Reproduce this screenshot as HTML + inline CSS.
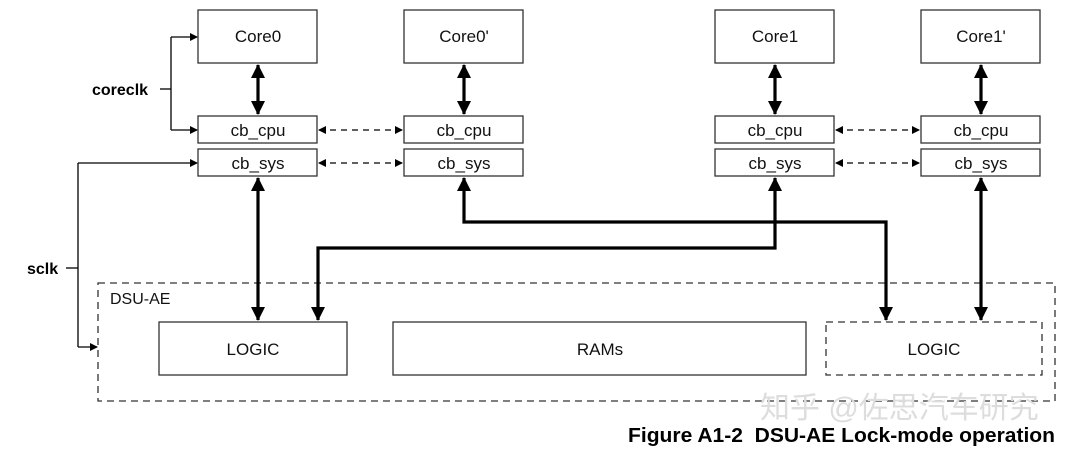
<!DOCTYPE html>
<html><head><meta charset="utf-8"><style>
body{margin:0;background:#fff;}
svg text{font-family:"Liberation Sans",Arial,sans-serif;}
</style></head><body>
<svg width="1080" height="456" viewBox="0 0 1080 456" xmlns="http://www.w3.org/2000/svg">
<defs>
<marker id="a" markerWidth="8" markerHeight="8" refX="7" refY="4" orient="auto-start-reverse" markerUnits="userSpaceOnUse"><path d="M0,0 L8,4 L0,8 z" fill="#000"/></marker>
<marker id="b" markerWidth="14" markerHeight="14" refX="13" refY="7" orient="auto-start-reverse" markerUnits="userSpaceOnUse"><path d="M0,0 L14,7 L0,14 z" fill="#000"/></marker>
</defs>
<g fill="#fff" stroke="#333" stroke-width="1.3">
<rect x="198" y="10" width="119" height="53"/><rect x="404" y="10" width="119" height="53"/>
<rect x="715" y="10" width="119" height="53"/><rect x="921" y="10" width="119" height="53"/>
<rect x="198" y="116" width="119" height="27"/><rect x="404" y="116" width="119" height="27"/>
<rect x="715" y="116" width="119" height="27"/><rect x="921" y="116" width="119" height="27"/>
<rect x="198" y="149" width="119" height="27"/><rect x="404" y="149" width="119" height="27"/>
<rect x="715" y="149" width="119" height="27"/><rect x="921" y="149" width="119" height="27"/>
<rect x="98" y="283" width="957" height="118" stroke-dasharray="7,5"/>
<rect x="159" y="322" width="188" height="53"/><rect x="393" y="322" width="413" height="53"/>
<rect x="826" y="322" width="216" height="53" stroke-dasharray="7,5"/>
</g>
<g font-size="17" text-anchor="middle" fill="#111">
<text x="258" y="42">Core0</text><text x="464" y="42">Core0'</text><text x="775" y="42">Core1</text><text x="981" y="42">Core1'</text>
<text x="258" y="136">cb_cpu</text><text x="464" y="136">cb_cpu</text><text x="775" y="136">cb_cpu</text><text x="981" y="136">cb_cpu</text>
<text x="258" y="169">cb_sys</text><text x="464" y="169">cb_sys</text><text x="775" y="169">cb_sys</text><text x="981" y="169">cb_sys</text>
<text x="253" y="355">LOGIC</text><text x="600" y="355">RAMs</text><text x="934" y="355">LOGIC</text>
</g>
<text x="110" y="304" font-size="16" fill="#111">DSU-AE</text>
<text x="92" y="95" font-size="16" font-weight="bold">coreclk</text>
<text x="27" y="274" font-size="16" font-weight="bold">sclk</text>
<g stroke="#000" stroke-width="3.2" fill="none">
<line x1="258" y1="65" x2="258" y2="114" marker-start="url(#b)" marker-end="url(#b)"/>
<line x1="464" y1="65" x2="464" y2="114" marker-start="url(#b)" marker-end="url(#b)"/>
<line x1="775" y1="65" x2="775" y2="114" marker-start="url(#b)" marker-end="url(#b)"/>
<line x1="981" y1="65" x2="981" y2="114" marker-start="url(#b)" marker-end="url(#b)"/>
<line x1="258" y1="178" x2="258" y2="320" marker-start="url(#b)" marker-end="url(#b)"/>
<line x1="981" y1="178" x2="981" y2="320" marker-start="url(#b)" marker-end="url(#b)"/>
<polyline points="464,178 464,222 886,222 886,320" marker-start="url(#b)" marker-end="url(#b)"/>
<polyline points="775,178 775,248 318,248 318,320" marker-start="url(#b)" marker-end="url(#b)"/>
</g>
<g stroke="#000" stroke-width="1.3" fill="none">
<line x1="319" y1="130" x2="402" y2="130" stroke-dasharray="6,5" marker-start="url(#a)" marker-end="url(#a)"/>
<line x1="319" y1="163" x2="402" y2="163" stroke-dasharray="6,5" marker-start="url(#a)" marker-end="url(#a)"/>
<line x1="836" y1="130" x2="919" y2="130" stroke-dasharray="6,5" marker-start="url(#a)" marker-end="url(#a)"/>
<line x1="836" y1="163" x2="919" y2="163" stroke-dasharray="6,5" marker-start="url(#a)" marker-end="url(#a)"/>
<line x1="160" y1="89" x2="171" y2="89"/>
<line x1="171" y1="37" x2="171" y2="130"/>
<line x1="171" y1="37" x2="197" y2="37" marker-end="url(#a)"/>
<line x1="171" y1="130" x2="197" y2="130" marker-end="url(#a)"/>
<line x1="66" y1="268" x2="78" y2="268"/>
<line x1="78" y1="163" x2="78" y2="347"/>
<line x1="78" y1="163" x2="197" y2="163" marker-end="url(#a)"/>
<line x1="78" y1="347" x2="97" y2="347" marker-end="url(#a)"/>
</g>
<text x="760" y="418" font-size="30" fill="#ddd" font-family="'Liberation Sans','Noto Sans CJK SC',sans-serif">知乎 @佐思汽车研究</text>
<text x="628" y="442" font-size="20" font-weight="bold" textLength="427" lengthAdjust="spacingAndGlyphs" xml:space="preserve">Figure A1-2  DSU-AE Lock-mode operation</text>
</svg>
</body></html>
